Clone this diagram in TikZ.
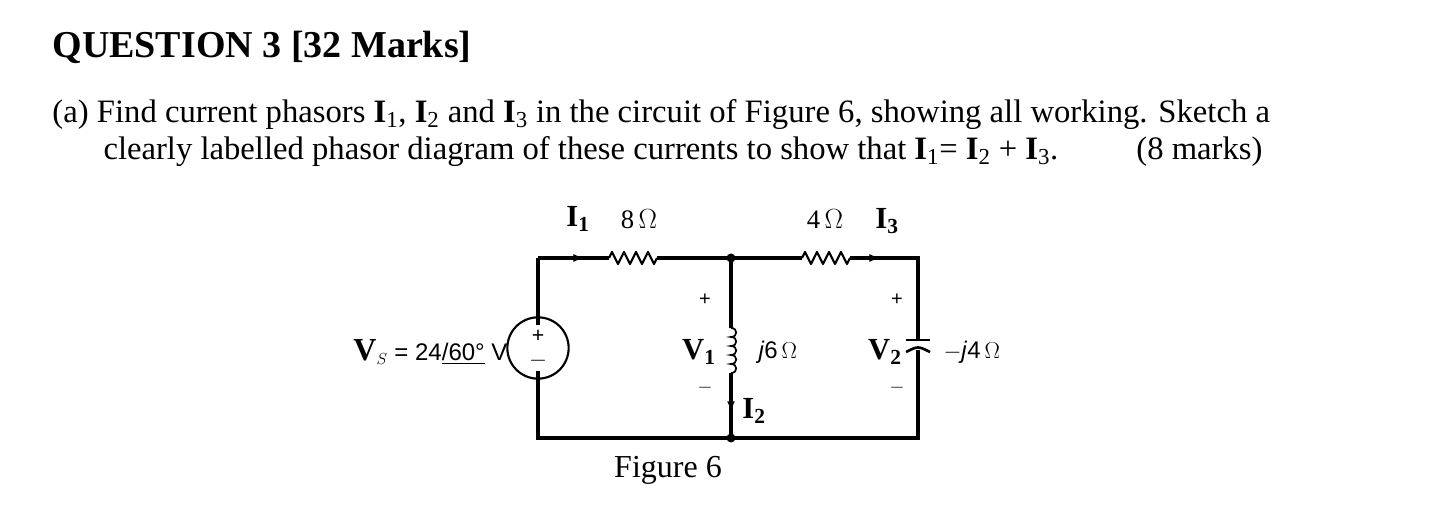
\documentclass[tikz,border=0pt]{standalone}
\usepackage{fontspec}
\setmainfont{Liberation Serif}
\newfontfamily\sansf{Liberation Sans}
\usetikzlibrary{positioning,arrows.meta}
\tikzset{every picture/.style={line width=0.75pt}}
\tikzset{wire/.style={line width=3pt},
  lbl/.style={inner sep=0.75pt,font=\sansf\fontsize{18}{20}\selectfont},
  blbl/.style={inner sep=0.75pt,font=\fontsize{23}{25}\selectfont\bfseries},
  sgn/.style={inner sep=0.75pt,font=\sansf\fontsize{15}{15}\selectfont}}
\begin{document}
\begin{tikzpicture}[x=0.75pt,y=0.75pt,yscale=-1,xscale=1]
\useasboundingbox (0,0) rectangle (1436,516);

% Text Nodes
\node (q) [anchor=base west,inner sep=0pt,font=\fontsize{28.5}{30}\selectfont\bfseries] at (52,58) {QUESTION 3 [32 Marks]};
\node (la) [anchor=base west,inner sep=0pt,font=\fontsize{24.5}{27}\selectfont] at (52,123) {(a) Find current phasors \textbf{I}\textsubscript{1}, \textbf{I}\textsubscript{2} and \textbf{I}\textsubscript{3} in the circuit of Figure 6, showing all working. Sketch a};
\node (lb) [anchor=base west,inner sep=0pt,font=\fontsize{24.5}{27}\selectfont] at (103,160) {clearly labelled phasor diagram of these currents to show that \textbf{I}\textsubscript{1}= \textbf{I}\textsubscript{2} + \textbf{I}\textsubscript{3}.};
\node (mk) [anchor=base east,inner sep=0pt,font=\fontsize{24.5}{27}\selectfont] at (1263,160) {(8 marks)};

% Corners
\coordinate (tl) at (538,258);
\coordinate (tm) at (731,258);
\coordinate (tr) at (918,258);
\coordinate (bl) at (538,438);
\coordinate (bm) at (731,438);
\coordinate (br) at (918,438);

% Wires
\draw [wire] (tl) -- (609,258) (657,258) -- (802,258) (850,258) -- (tr) -- (918,340);
\draw [wire] (918,350) -- (br) -- (bl) -- (538,371);
\draw [wire] (538,325) -- (tl);
\draw [wire] (tm) -- (731,328) (731,373) -- (bm);
\fill (tm) circle (4.5);
\fill (bm) circle (4.5);

% Resistors
\draw [line width=1.6pt,line join=round] (609,258) -- (612,252) -- (618,264) -- (624,252) -- (630,264) -- (636,252) -- (642,264) -- (648,252) -- (654,264) -- (657,258);
\draw [line width=1.6pt,line join=round] (802,258) -- (805,252) -- (811,264) -- (817,252) -- (823,264) -- (829,252) -- (835,264) -- (841,252) -- (847,264) -- (850,258);

% Source
\node (vs) [circle,draw,line width=1.6pt,minimum size=46,inner sep=0pt] at (538,348) {};
\node [sgn,font=\sansf\fontsize{16}{16}\selectfont,inner sep=0pt] at (538,336) {+};
\node [sgn,font=\sansf\fontsize{16}{16}\selectfont,inner sep=0pt] at (538,361) {$-$};

% Inductor
\draw [line width=1.3pt] (731,328) \foreach \k in {0,...,4} { .. controls +(7,0) and +(7,0) .. ++(0,9) };

% Capacitor
\draw [line width=2pt] (906,340) -- (930,340);
\draw [line width=2pt] (906,352) .. controls (918,346) .. (930,352);

% Arrows
\draw [-{Latex[length=8pt,width=6pt]}] (570,258) -- (584,258);
\draw [-{Latex[length=8pt,width=6pt]}] (866,258) -- (880,258);
\draw [-{Latex[length=8pt,width=6pt]},line width=2pt] (731,392) -- (731,412);

% Labels
\node [blbl] at (578,219) {I\textsubscript{1}};
\node [lbl,font=\fontsize{20}{20}\selectfont] at (639,219) {8\,$\Omega$};
\node [lbl,font=\fontsize{20}{20}\selectfont] at (825,219) {4\,$\Omega$};
\node [blbl] at (887,221) {I\textsubscript{3}};
\node [blbl] at (754,411) {I\textsubscript{2}};
\node [sgn] at (705,300) {+};
\node [sgn] at (705,388) {$-$};
\node [sgn] at (897,300) {+};
\node [sgn] at (897,388) {$-$};
\node [blbl] at (699,352) {V\textsubscript{1}};
\node [blbl] at (885,352) {V\textsubscript{2}};
\node [lbl,anchor=west] at (757,352) {\textit{j}6\,$\Omega$};
\node [lbl,anchor=west] at (942,352) {$-$\textit{j}4\,$\Omega$};
\node [lbl,anchor=east] at (509,352) {\textbf{\fontsize{24}{24}\selectfont\rmfamily V}$_S$ = 24\underline{/60\textdegree} V};
\node (fig) [anchor=base,inner sep=0pt,font=\fontsize{24}{26}\selectfont] at (668,478) {Figure 6};
\end{tikzpicture}
\end{document}
